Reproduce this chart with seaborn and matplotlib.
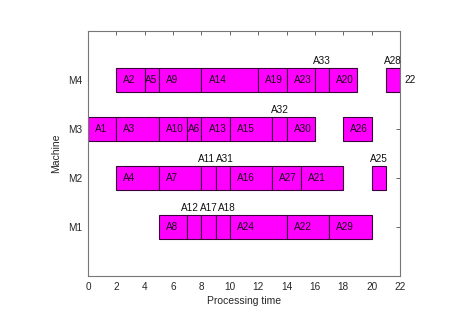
import matplotlib
matplotlib.use("Agg")
import matplotlib.pyplot as plt
import seaborn as sns

# ---- data ----
machines = ["M1", "M2", "M3", "M4"]

ops_m4 = ["A2", "A5", "A9", "A14", "A19", "A23", "A33", "A20", "A28"]
start_m4 = [2, 4, 5, 8, 12, 14, 16, 17, 21]
dur_m4 = [2, 1, 3, 4, 2, 2, 1, 2, 1]

ops_m3 = ["A1", "A3", "A10", "A6", "A13", "A15", "A32", "A30", "A26"]
start_m3 = [0, 2, 5, 7, 8, 10, 13, 14, 18]
dur_m3 = [2, 3, 2, 1, 2, 3, 1, 2, 2]

ops_m2 = ["A4", "A7", "A11", "A31", "A16", "A27", "A21", "A25"]
start_m2 = [2, 5, 8, 9, 10, 13, 15, 20]
dur_m2 = [3, 3, 1, 1, 3, 2, 3, 1]

ops_m1 = ["A8", "A12", "A17", "A18", "A24", "A22", "A29"]
start_m1 = [5, 7, 8, 9, 10, 14, 17]
dur_m1 = [2, 1, 1, 1, 4, 3, 3]

above_labels = ["A33", "A32", "A11", "A31", "A12", "A17", "A18", "A25", "A28"]
x_ticks = [0, 2, 4, 6, 8, 10, 12, 14, 16, 18, 20, 22]
x_label = "Processing time"
y_label = "Machine"
side_note = "22"

# ---- style ----
sns.set_theme(style="white")
plt.rcParams["font.family"] = ["Liberation Sans", "DejaVu Sans"]

fig = plt.figure(figsize=(4.74, 3.22), dpi=100)
ax = fig.add_axes([0.1857, 0.1429, 0.8439 - 0.1857, 0.9037 - 0.1429])

rows = [
    (1, ops_m1, start_m1, dur_m1),
    (2, ops_m2, start_m2, dur_m2),
    (3, ops_m3, start_m3, dur_m3),
    (4, ops_m4, start_m4, dur_m4),
]

bar_h = 0.5
fs = 7.2
gap = 1.3
for y, ops, starts, durs in rows:
    ax.barh([y] * len(ops), durs, left=starts, height=bar_h,
            color="#ff00ff", edgecolor="#3a003a", linewidth=0.8, zorder=2)
    groups = []
    for name, s, d in zip(ops, starts, durs):
        if name in above_labels:
            c = s + d / 2
            if groups and abs(groups[-1][-1][1] - c) <= 1.01:
                groups[-1].append((name, c))
            else:
                groups.append([(name, c)])
        else:
            off = 0.5 if d > 1 else 0.05
            ax.text(s + off, y, name, ha="left", va="center",
                    fontsize=fs, color="#1a001a", zorder=3)
    for g in groups:
        mid = sum(c for _, c in g) / len(g)
        n = len(g)
        for i, (name, c) in enumerate(g):
            xc = mid + (i - (n - 1) / 2) * gap if n > 1 else c
            ax.text(xc, y + bar_h / 2 + 0.03, name, ha="center", va="bottom",
                    fontsize=fs, color="#111111", zorder=3)

ax.text(22.3, 4, side_note, ha="left", va="center", fontsize=fs,
        color="#111111", clip_on=False)

ax.set_xlim(0, 22)
ax.set_ylim(0, 5)
ax.set_xticks(x_ticks)
ax.set_xticklabels([str(t) for t in x_ticks])
ax.set_yticks([1, 2, 3, 4])
ax.set_yticklabels(machines)
ax.set_xlabel(x_label, fontsize=fs + 0.3, color="#262626", labelpad=3)
ax.set_ylabel(y_label, fontsize=fs + 0.3, color="#262626", labelpad=5)
ax.tick_params(direction="in", top=True, right=True, length=3, width=0.7,
               colors="#666666", labelcolor="#262626", labelsize=fs, pad=4)
for sp in ax.spines.values():
    sp.set_color("#777777")
    sp.set_linewidth(0.8)

fig.savefig("out.png", dpi=100)
